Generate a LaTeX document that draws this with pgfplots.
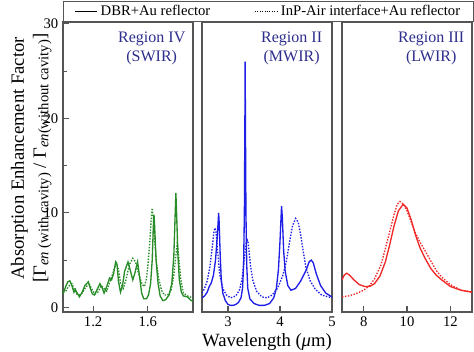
\documentclass[border=0pt]{standalone}
\usepackage{fontspec}
\setmainfont{Liberation Serif}
\usepackage{pgfplots}
\pgfplotsset{compat=1.18}
\definecolor{cgreen}{RGB}{40,140,40}
\definecolor{cblue}{RGB}{30,30,230}
\definecolor{cred}{RGB}{240,40,40}
\definecolor{ctext}{RGB}{45,45,140}
\definecolor{axgray}{RGB}{85,85,85}
\newcommand\sub[1]{\raisebox{-0.3ex}{\fontsize{11}{12}\selectfont #1}}
\pgfplotsset{panel/.style={
  scale only axis, width=97.5pt, height=217.5pt,
  ymin=-0.5, ymax=30.2,
  axis line style={axgray, line width=0.9pt},
  tick style={axgray, line width=0.8pt},
  tick align=inside, xtick pos=bottom, ytick pos=left,
  major tick length=4.5pt, minor tick length=3pt,
  /pgf/number format/assume math mode=true,
  ticklabel style={font=\fontsize{11}{13}\selectfont},
  every axis plot/.append style={line width=1pt},
}}
\tikzset{
sol/.style={solid},
dot/.style={dash pattern=on 1.1pt off 1.1pt},
reg/.style={align=center, anchor=north east, text=ctext, font=\fontsize{12}{14.5}\selectfont}
}
\begin{document}
\begin{tikzpicture}
\useasboundingbox (-47.25pt,-29.25pt) rectangle (308.25pt,234pt);
% Panel 1
\begin{axis}[panel, at={(0pt,0pt)}, anchor=south west,
  xmin=0.98, xmax=1.93, xtick={1.2,1.6},
  ytick={0,10,20,30}, minor ytick={5,15,25},
  ylabel={Absorption Enhancement Factor\\{}[Γ\sub{\textit{en} (with cavity)} / Γ\sub{\textit{en}(without cavity)}]},
  ylabel style={font=\fontsize{14}{16.5}\selectfont, align=center, at={(axis description cs:-0.245,0.53)}, anchor=center},
  legend columns=2,
  legend style={at={(axis description cs:0,1)}, anchor=south west, yshift=0pt,
    draw=axgray, line width=0.8pt, font=\fontsize{11}{12}\selectfont,
    inner ysep=1pt, inner xsep=8pt,
    /tikz/every even column/.append style={column sep=31pt}},
  legend cell align=left,
]
\addlegendimage{black, solid, line width=0.8pt}
\addlegendentry{DBR+Au reflector}
\addlegendimage{black, dash pattern=on 0.8pt off 1pt, line width=0.8pt}
\addlegendentry{InP-Air interface+Au reflector}
\addplot[cgreen, sol] coordinates {
(0.98,1.4) (1.0,2.2) (1.015,2.7) (1.03,2.8) (1.045,2.3) (1.06,1.6) (1.07,1.9) (1.08,1.6) (1.10,1.1) (1.12,1.6) (1.14,2.3) (1.165,2.7) (1.18,2.0) (1.195,1.4) (1.21,1.3) (1.23,1.9) (1.25,2.5) (1.265,2.1) (1.28,1.5) (1.30,2.2) (1.32,3.1) (1.335,2.9) (1.35,3.6) (1.365,4.8) (1.375,4.5) (1.385,2.8) (1.40,1.6) (1.415,2.3) (1.43,3.8) (1.455,4.8) (1.47,4.0) (1.49,2.9) (1.505,3.6) (1.525,4.8) (1.54,3.2) (1.555,1.5) (1.57,0.9) (1.59,0.9) (1.605,1.3) (1.62,2.5) (1.632,5.0) (1.64,8.5) (1.645,9.8) (1.65,8.5) (1.66,5.0) (1.675,2.5) (1.69,1.2) (1.71,0.7) (1.73,0.8) (1.755,1.3) (1.775,2.5) (1.79,5.5) (1.80,10.0) (1.805,12.1) (1.81,10.0) (1.82,5.5) (1.83,2.9) (1.845,1.6) (1.86,1.2) (1.89,1.1) (1.91,0.8) (1.93,0.6)
};
\addplot[cgreen, dot] coordinates {
(0.98,1.6) (1.0,1.7) (1.02,2.2) (1.045,2.5) (1.06,2.0) (1.08,1.4) (1.10,1.3) (1.12,1.5) (1.15,2.2) (1.175,2.4) (1.195,1.8) (1.215,1.4) (1.235,1.6) (1.26,2.3) (1.28,2.0) (1.30,1.7) (1.32,2.6) (1.345,3.6) (1.37,4.8) (1.385,4.0) (1.40,2.6) (1.42,2.0) (1.44,2.9) (1.465,4.5) (1.49,5.2) (1.51,4.8) (1.535,3.4) (1.56,2.4) (1.575,2.2) (1.59,3.0) (1.60,4.4) (1.615,7.0) (1.625,9.5) (1.632,10.5) (1.64,9.5) (1.65,7.1) (1.665,4.5) (1.68,3.0) (1.70,1.8) (1.72,1.3) (1.745,1.3) (1.77,1.8) (1.79,3.4) (1.805,5.5) (1.815,6.8) (1.825,5.5) (1.84,3.0) (1.86,1.5) (1.89,1.2) (1.93,1.0)
};
\node[reg] at (rel axis cs:0.977,0.983) {Region IV\\(SWIR)};
\end{axis}
% Panel 2
\begin{axis}[panel, at={(104.25pt,0pt)}, anchor=south west,
  xmin=2.5, xmax=5, xtick={3,4,5}, ytick=\empty,
  xlabel={Wavelength ({\itshape μ}m)},
  xlabel style={font=\fontsize{14}{16}\selectfont, at={(axis description cs:0.5,0)}, anchor=center, yshift=-22.5pt},
]
\addplot[cblue, sol] coordinates {
(2.50,1.0) (2.55,1.2) (2.60,1.6) (2.64,2.2) (2.68,2.6) (2.72,3.4) (2.76,5.0) (2.79,7.2) (2.81,9.0) (2.82,10.0) (2.83,9.0) (2.85,5.5) (2.87,3.0) (2.90,1.5) (2.95,0.7) (3.00,0.3) (3.05,0.2) (3.10,0.2) (3.15,0.3) (3.20,0.5) (3.25,1.0) (3.28,2.0) (3.30,4.5) (3.315,10) (3.325,20) (3.33,26.0) (3.335,20) (3.345,10) (3.36,4.5) (3.38,2.0) (3.42,0.9) (3.50,0.4) (3.60,0.2) (3.70,0.2) (3.80,0.4) (3.88,1.0) (3.93,2.0) (3.97,4.0) (4.00,7.0) (4.02,9.5) (4.03,10.7) (4.045,9.5) (4.07,6.0) (4.10,3.8) (4.15,2.3) (4.21,1.8) (4.30,2.0) (4.40,2.8) (4.50,3.9) (4.56,4.8) (4.60,5.0) (4.64,4.7) (4.70,3.5) (4.78,2.3) (4.88,1.5) (5.00,1.1)
};
\addplot[cblue, dot] coordinates {
(2.50,1.5) (2.55,2.0) (2.60,2.8) (2.65,4.2) (2.70,6.5) (2.73,8.0) (2.75,8.4) (2.77,8.0) (2.80,6.0) (2.84,3.5) (2.90,2.0) (2.97,1.3) (3.05,1.0) (3.15,1.2) (3.22,1.8) (3.27,3.0) (3.31,5.0) (3.35,6.8) (3.37,7.1) (3.39,6.8) (3.43,4.5) (3.48,2.8) (3.55,1.7) (3.65,1.1) (3.75,1.0) (3.85,1.3) (3.95,2.0) (4.05,3.3) (4.12,4.8) (4.18,6.8) (4.24,8.6) (4.30,9.4) (4.35,9.0) (4.40,7.6) (4.45,5.8) (4.50,4.2) (4.58,2.8) (4.68,1.9) (4.80,1.3) (5.00,1.0)
};
\node[reg] at (rel axis cs:0.96,0.983) {Region II\\(MWIR)};
\end{axis}
% Panel 3
\begin{axis}[panel, at={(209.25pt,0pt)}, anchor=south west,
  xmin=7, xmax=13, xtick={8,10,12}, ytick=\empty,
]
\addplot[cred, sol] coordinates {
(7.0,2.9) (7.1,3.4) (7.22,3.6) (7.35,3.4) (7.55,2.9) (7.8,2.4) (8.05,2.2) (8.27,2.2) (8.5,2.5) (8.75,3.3) (9.0,4.8) (9.2,6.6) (9.4,8.6) (9.6,10.2) (9.82,10.9) (10.0,10.5) (10.2,9.2) (10.4,7.6) (10.6,6.3) (10.83,5.2) (11.1,4.1) (11.35,3.4) (11.6,2.9) (12.0,2.2) (12.5,1.8) (13.0,1.6)
};
\addplot[cred, dot] coordinates {
(7.0,1.1) (7.3,1.2) (7.6,1.4) (8.0,1.8) (8.27,2.3) (8.5,3.0) (8.8,4.5) (9.0,6.2) (9.2,8.0) (9.4,9.8) (9.55,10.9) (9.67,11.2) (9.85,10.9) (10.0,10.2) (10.2,9.0) (10.4,7.8) (10.6,6.9) (10.83,6.0) (11.1,4.9) (11.35,3.9) (11.6,3.2) (12.0,2.4) (12.5,1.8) (13.0,1.6)
};
\node[reg] at (rel axis cs:0.977,0.983) {Region III\\(LWIR)};
\end{axis}
\end{tikzpicture}
\end{document}
